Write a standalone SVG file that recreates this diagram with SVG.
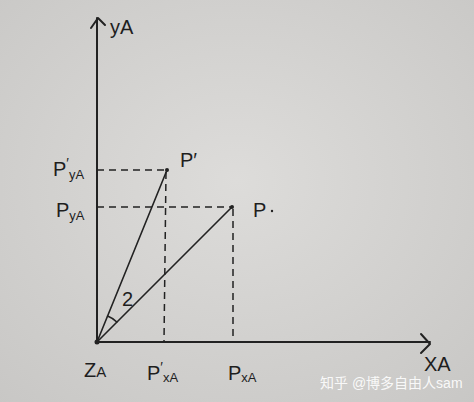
<svg xmlns="http://www.w3.org/2000/svg" width="474" height="402" viewBox="0 0 474 402">
  <defs>
    <radialGradient id="bg" cx="0.5" cy="0.45" r="0.75">
      <stop offset="0" stop-color="#dddcda"/>
      <stop offset="1" stop-color="#c8c7c5"/>
    </radialGradient>
    <style>
      .ax { stroke:#222; stroke-width:2; fill:none; stroke-linecap:round; stroke-linejoin:round; }
      .ln { stroke:#222; stroke-width:1.6; fill:none; stroke-linecap:round; }
      .dash { stroke:#222; stroke-width:1.5; fill:none; stroke-dasharray:7 5; }
      .lbl { font-family:"Liberation Sans", "DejaVu Sans", sans-serif; fill:#1e1e1e; font-size:20px; }
      .sub { font-size:13px; }
      .wm { font-family:"Liberation Sans", "Noto Sans CJK SC", sans-serif; fill:#ffffff; fill-opacity:0.9; font-size:14px; }
    </style>
  </defs>
  <rect width="474" height="402" fill="url(#bg)"/>

  <g id="connectors">
    <!-- axes -->
    <path class="ax" d="M97 342 V18"/>
    <path class="ax" d="M91 28 L98 18 L105 25"/>
    <path class="ax" d="M97 342 H430"/>
    <path class="ax" d="M421 334 L430 344 L421 353"/>
    <!-- vectors -->
    <path class="ln" d="M97 342 L167 170"/>
    <path class="ln" d="M97 342 L232 207"/>
    <!-- dashed projections -->
    <path class="dash" d="M97 170 H167"/>
    <path class="dash" d="M97 207 H232"/>
    <path class="dash" d="M166 172 L164 342"/>
    <path class="dash" d="M233 209 V342"/>
    <!-- angle arc -->
    <path class="ln" d="M107.6 316 A28 28 0 0 1 116.8 322"/>
  </g>

  <g id="origin"><circle cx="97" cy="342" r="2.5" fill="#222"/>
    <text class="lbl" x="84" y="377">Z<tspan font-size="15">A</tspan></text></g>
  <g id="yaxis-label"><text class="lbl" x="110" y="34" font-size="17">yA</text></g>
  <g id="xaxis-label"><text class="lbl" x="424" y="371" font-size="18">XA</text></g>
  <g id="node-Pprime"><circle cx="167" cy="170" r="2" fill="#222"/>
    <text class="lbl" x="180" y="167">P′</text></g>
  <g id="node-P"><circle cx="232" cy="207" r="2" fill="#222"/>
    <text class="lbl" x="253" y="217">P</text>
    <circle cx="272" cy="211" r="1.2" fill="#222"/></g>
  <g id="label-Pya-prime"><text class="lbl" x="53" y="176">P<tspan font-size="14" dy="-8">′</tspan><tspan class="sub" dy="11">yA</tspan></text></g>
  <g id="label-Pya"><text class="lbl" x="56" y="217">P<tspan class="sub" dy="3">yA</tspan></text></g>
  <g id="label-Pxa-prime"><text class="lbl" x="147" y="380">P<tspan font-size="14" dy="-8">′</tspan><tspan class="sub" dy="10">xA</tspan></text></g>
  <g id="label-Pxa"><text class="lbl" x="228" y="380">P<tspan class="sub" dy="2">xA</tspan></text></g>
  <g id="angle-label"><text class="lbl" x="122" y="306" font-size="17">2</text></g>

  <text class="wm" x="320" y="388">知乎 @博多自由人sam</text>
</svg>
